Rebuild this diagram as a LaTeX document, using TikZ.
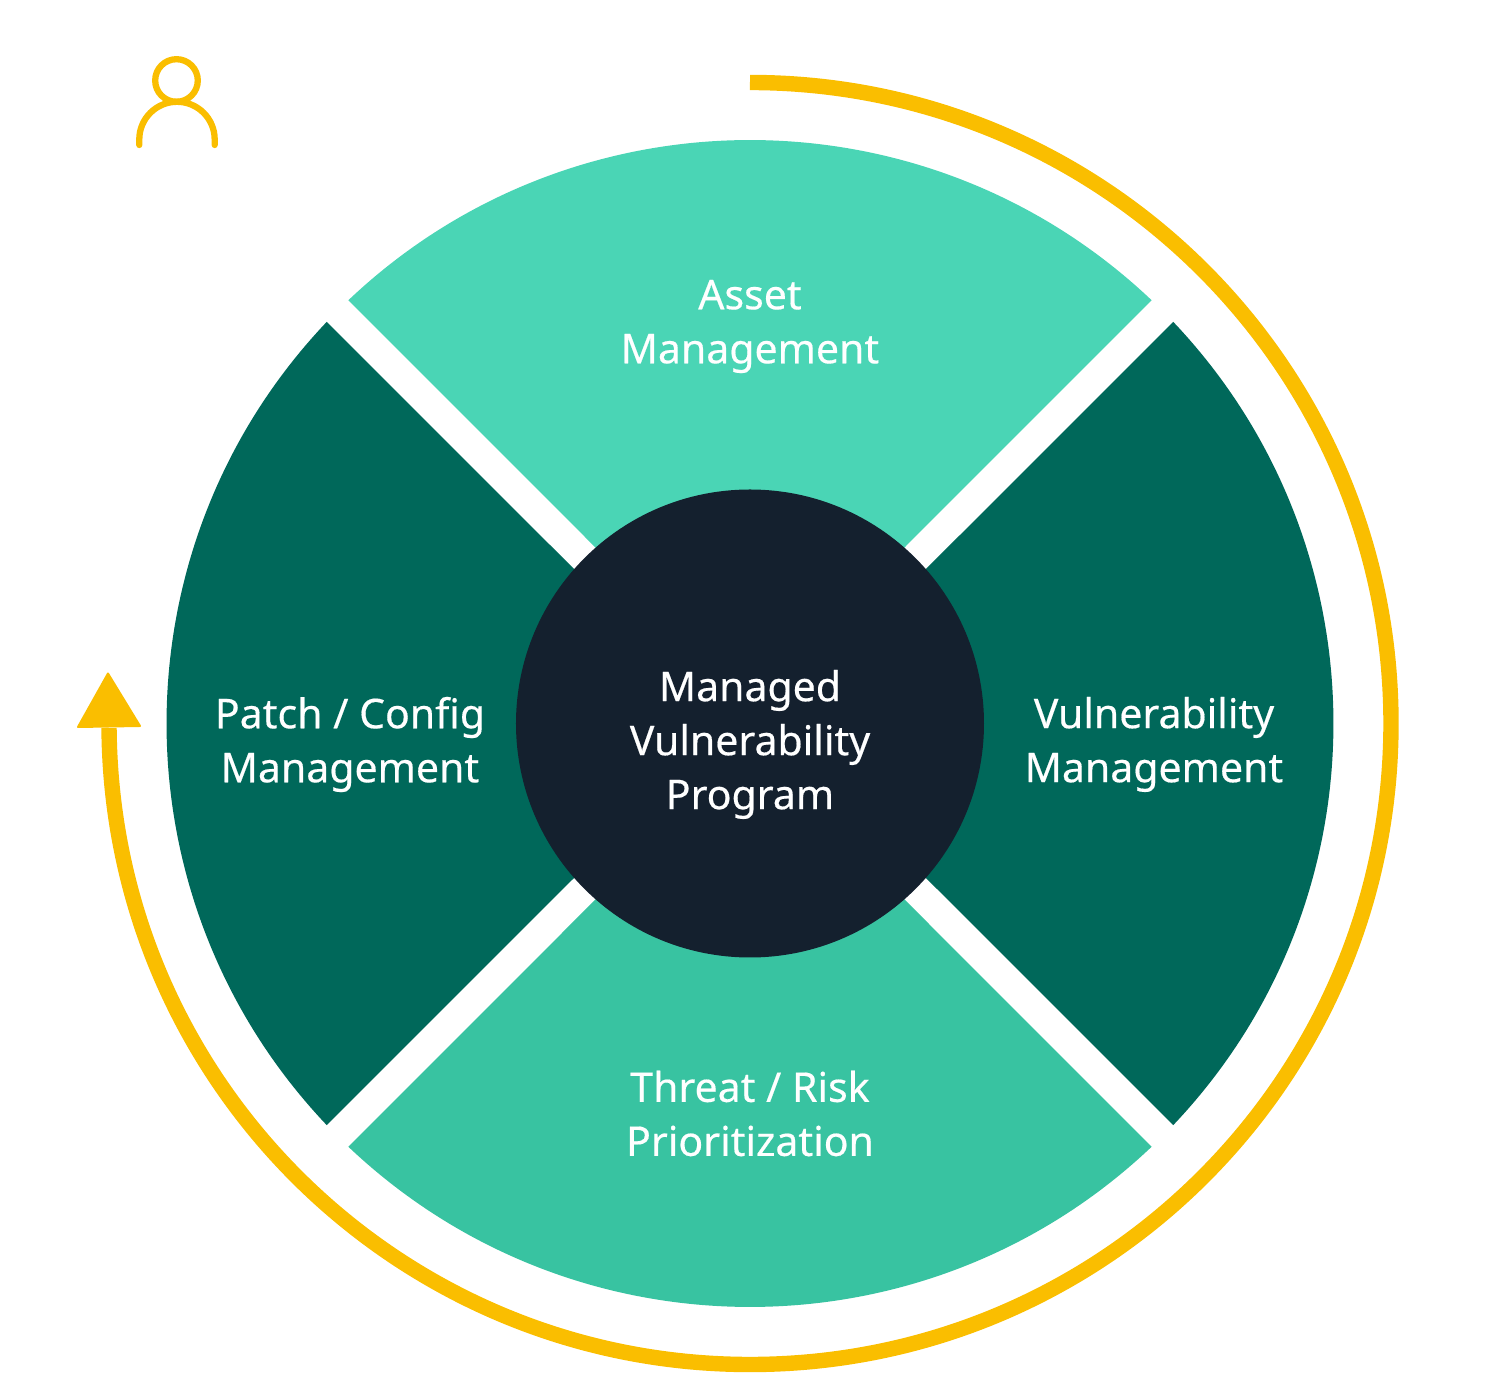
\documentclass[tikz,border=0pt]{standalone}
\usepackage{fontspec}
\setmainfont{Noto Sans}[FakeBold = 0.4]
\usepackage{tikz}
\definecolor{ringgold}{HTML}{FABE00}
\definecolor{topgreen}{HTML}{4AD5B5}
\definecolor{lowgreen}{HTML}{38C3A1}
\definecolor{darkgreen}{HTML}{00685A}
\definecolor{hubnavy}{HTML}{14202E}

\begin{document}
\begin{tikzpicture}[x = 0.5pt, y = 0.5pt,
    every node/.style = {align = center, text = white, font = \fontsize{20.5}{27}\selectfont},
    ring/.style = {draw = ringgold, line width = 7.7pt},
    icon/.style = {draw = ringgold, line width = 3.15pt, line cap = round}]
    \useasboundingbox (-750,-672.5) rectangle (750,723.5);
    % sectors
    \foreach \ang/\col in {90/topgreen, 0/darkgreen, -90/lowgreen, 180/darkgreen}
        \fill[\col] ({\ang+43.5}:583.5) arc[start angle = \ang+43.5, delta angle = -87, radius = 583.5]
            -- ({\ang-41.26}:233) -- ({\ang+41.26}:233) -- cycle;
    % centre
    \node[circle, fill = hubnavy, minimum size = 234pt, inner sep = 0pt] (hub) at (0,0) {};
    \node (hubtext) at (0,-21) {Managed\\Vulnerability\\Program};
    % labels
    \node (asset) at (0,397) {Asset\\Management};
    \node (vuln) at (404,-21) {Vulnerability\\Management};
    \node (threat) at (0,-390) {Threat / Risk\\Prioritization};
    \node (patch) at (-400,-21) {Patch / Config\\Management};
    % ring and head
    \coordinate (ringstart) at (0,641);
    \draw[ring] (ringstart) arc[start angle = 90, end angle = -179.6, radius = 641];
    \fill[ringgold, draw = ringgold, line width = 1pt, line join = round]
        (-642,50) -- (-672,-3.5) -- (-610,-2.5) -- cycle;
    % person
    \draw[icon] (-573.5,643) circle[radius = 21.3];
    \draw[icon] (-610.7,578.5) -- (-610.7,584) arc[start angle = 180, end angle = 0, radius = 37.7] -- (-535.3,578.5);
\end{tikzpicture}
\end{document}
